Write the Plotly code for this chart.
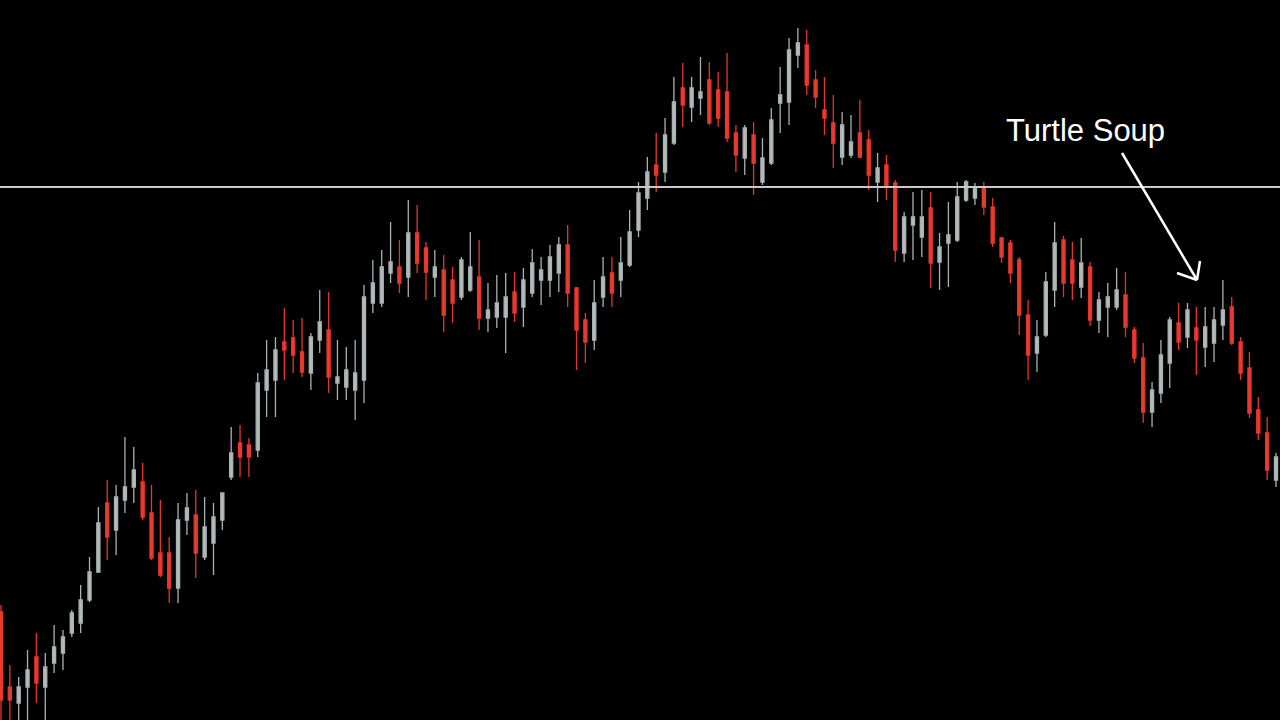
import plotly.graph_objects as go

# Candle data (price units = chart pixel height, 0 at bottom)
opens = [108, 33, 17, 33, 63, 33, 57, 67, 87, 97, 120, 148, 217, 190, 220, 233, 238, 207, 167, 167, 132, 200, 205, 163, 177, 200,
         243, 277, 275, 270, 330, 340, 378, 382, 368, 347, 380, 390, 337, 333, 330, 340, 417, 417, 447, 453, 443, 487, 472,
         443, 450, 440, 423, 430, 443, 402, 403, 403, 428, 413, 427, 440, 440, 447, 475, 432, 400, 380, 423, 447, 440, 455, 490,
         522, 555, 548, 577, 632, 613, 622, 640, 630, 628, 587, 562, 585, 538, 557, 617, 618, 665, 675, 640, 610, 597, 563, 565,
         587, 580, 538, 555, 537, 467, 495, 483, 512, 458, 477, 480, 520, 522, 533, 513, 482, 477, 460, 405, 367, 385, 430, 480,
         460, 433, 453, 400, 413, 413, 425, 390, 362, 308, 327, 357, 397, 383, 392, 373, 377, 395, 413, 378, 352, 310, 287, 240]
highs = [115, 55, 43, 70, 87, 67, 95, 90, 110, 135, 163, 213, 240, 235, 283, 273, 257, 235, 220, 183, 217, 227, 230, 223, 217, 227,
         293, 295, 282, 347, 380, 383, 412, 400, 402, 387, 430, 428, 380, 373, 380, 435, 460, 470, 498, 480, 520, 515, 478,
         470, 465, 453, 463, 488, 480, 437, 445, 447, 448, 452, 471, 463, 475, 483, 495, 433, 407, 440, 463, 463, 483, 510, 538,
         563, 587, 602, 643, 657, 643, 663, 658, 648, 667, 595, 595, 598, 582, 612, 653, 682, 692, 690, 650, 643, 625, 608, 605,
         620, 590, 567, 565, 540, 508, 528, 530, 528, 487, 518, 538, 540, 537, 538, 522, 483, 480, 463, 420, 400, 448, 498, 484,
         478, 482, 458, 428, 437, 452, 448, 393, 377, 338, 380, 403, 417, 417, 413, 413, 413, 440, 423, 383, 368, 323, 303, 267]
lows = [-5, 0, 0, 0, 17, 0, 47, 50, 83, 87, 118, 147, 160, 165, 207, 217, 200, 160, 143, 117, 117, 185, 142, 160, 145, 190,
        240, 243, 243, 263, 303, 303, 340, 347, 343, 330, 367, 327, 320, 320, 300, 317, 407, 413, 437, 427, 423, 447, 420,
        423, 388, 397, 420, 428, 390, 388, 392, 367, 398, 393, 423, 415, 423, 428, 413, 350, 357, 370, 413, 413, 423, 453, 483,
        510, 528, 538, 575, 593, 598, 605, 595, 593, 578, 548, 545, 525, 535, 555, 587, 595, 652, 625, 612, 585, 552, 555, 562,
        562, 530, 518, 520, 458, 458, 460, 463, 432, 430, 433, 478, 518, 515, 505, 473, 457, 437, 385, 340, 348, 383, 413, 423,
        420, 422, 394, 387, 383, 410, 383, 357, 297, 293, 317, 332, 370, 372, 345, 353, 358, 380, 375, 340, 302, 280, 240, 233]
closes = [20, 20, 33, 50, 37, 53, 73, 83, 107, 120, 148, 197, 183, 223, 233, 250, 203, 162, 145, 132, 200, 212, 167, 193, 203, 227,
          267, 263, 263, 337, 350, 370, 370, 365, 348, 383, 398, 343, 343, 350, 347, 423, 437, 453, 458, 437, 487, 457, 448,
          453, 405, 417, 460, 453, 402, 410, 417, 423, 407, 440, 457, 450, 463, 475, 427, 390, 378, 417, 443, 427, 457, 488, 527,
          548, 545, 585, 618, 615, 632, 628, 597, 602, 582, 565, 592, 557, 562, 600, 625, 670, 677, 635, 623, 602, 577, 595, 578,
          563, 545, 552, 533, 470, 503, 503, 503, 457, 473, 485, 523, 538, 532, 513, 477, 463, 447, 405, 365, 383, 438, 477, 437,
          437, 457, 400, 420, 423, 430, 393, 362, 308, 330, 365, 400, 378, 410, 380, 393, 400, 410, 377, 347, 307, 287, 250, 263]

bars = list(range(len(closes)))
level = 533  # horizontal reference level
label = "Turtle Soup"

W, H = 1280, 720


def px(x):
    return x / W


def py(y):
    return 1 - y / H


fig = go.Figure()
fig.add_trace(go.Candlestick(
    x=bars, open=opens, high=highs, low=lows, close=closes,
    increasing=dict(line=dict(color="#a9b2b2", width=1.3), fillcolor="#b4bcbc"),
    decreasing=dict(line=dict(color="#e3372d", width=1.3), fillcolor="#ec3a2f"),
    whiskerwidth=0,
    hoverinfo="skip",
))

shapes = [
    dict(type="line", xref="paper", yref="y", x0=0, x1=1, y0=level, y1=level,
         line=dict(color="#c9c9c9", width=2)),
    dict(type="line", xref="paper", yref="paper", x0=px(1122), y0=py(153), x1=px(1197), y1=py(280),
         line=dict(color="white", width=2.5)),
    dict(type="line", xref="paper", yref="paper", x0=px(1177), y0=py(273), x1=px(1197), y1=py(280),
         line=dict(color="white", width=2.5)),
    dict(type="line", xref="paper", yref="paper", x0=px(1200), y0=py(261), x1=px(1197), y1=py(280),
         line=dict(color="white", width=2.5)),
]

fig.update_layout(
    width=W, height=H,
    margin=dict(l=0, r=0, t=0, b=0),
    paper_bgcolor="black", plot_bgcolor="black",
    showlegend=False,
    boxgap=0.5,
    xaxis=dict(visible=False, range=[-0.11, len(closes) - 0.55], rangeslider=dict(visible=False), fixedrange=True),
    yaxis=dict(visible=False, range=[0, 720], fixedrange=True),
    shapes=shapes,
    annotations=[dict(text=label, xref="paper", yref="paper", x=px(1085), y=py(130),
                      xanchor="center", yanchor="middle", showarrow=False,
                      font=dict(family="Liberation Sans, Arial, sans-serif", size=31, color="white"))],
)

fig.write_html(
    "out.html",
    config=dict(displayModeBar=False),
    post_script="document.body.style.margin='0';document.body.style.background='black';",
)
